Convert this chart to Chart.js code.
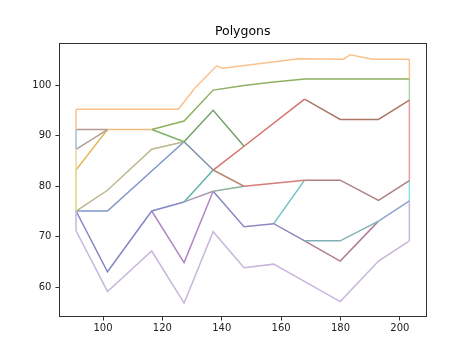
<!DOCTYPE html>
<html>
<head>
<meta charset="utf-8">
<script src="https://cdn.jsdelivr.net/npm/chart.js@4/dist/chart.umd.min.js"></script>
<style>
  html, body { margin: 0; padding: 0; background: #ffffff; }
  #wrap { width: 474px; height: 355px; }
</style>
</head>
<body>
<div id="wrap"><canvas id="c" width="474" height="355"></canvas></div>
<script>
// ---- title and tick labels ----
const titleText = 'Polygons';
const xTicks = [100, 120, 140, 160, 180, 200];
const yTicks = [60, 70, 80, 90, 100];

// ---- polyline vertices [x, y] ----
const orangeTop = [[90.9,95.2],[125.4,95.2],[130.8,99.3],[138.3,103.8],[140.3,103.3],[166,105.2],[181,105.1],[183.3,106.0],[190.6,105.1],[203.2,105.1]];
const orangeLeft = [[90.9,95.2],[90.9,91.2]];
const orangeRight = [[203.2,105.1],[203.2,101.2]];
const blueLeft = [[90.9,91.2],[90.9,87.3]];
const paleLeft = [[90.9,87.3],[90.9,83.2]];
const yellowLeft = [[90.9,83.2],[90.9,75.1]];
const lilacLeft = [[90.9,75.1],[90.9,71.2]];
const brownTop = [[90.9,91.2],[101.5,91.2]];
const orangeMid = [[101.5,91.2],[116.4,91.2]];
const brownDiag = [[90.9,87.3],[101.5,91.2]];
const yellowDiag = [[90.9,83.2],[101.5,91.2]];
const greenUpper = [[116.4,91.2],[127.3,92.9],[137.1,99.0],[147.5,99.9],[157.5,100.6],[168,101.2],[203.2,101.2]];
const greenZigA = [[116.4,91.2],[127.3,88.8]];
const greenZigB = [[127.3,88.8],[137.1,95.0],[147.5,87.9]];
const redRise = [[137.1,83.2],[147.5,87.9],[167.9,97.2]];
const brownHigh = [[167.9,97.2],[179.9,93.2],[192.8,93.2],[203.2,97.0]];
const greenRight = [[203.2,101.2],[203.2,97.0]];
const redRight = [[203.2,97.0],[203.2,81.1]];
const tanLine = [[90.9,75.1],[101.5,79.2],[116.4,87.3],[127.3,88.8]];
const blueLine = [[90.9,75.1],[101.5,75.1],[127.3,88.8]];
const blueGray = [[127.3,88.8],[137.1,83.2]];
const brownShort = [[137.1,83.2],[147.5,80.0]];
const redFlat = [[147.5,80.0],[167.9,81.2]];
const mauveLine = [[167.9,81.2],[179.9,81.2],[192.8,77.2],[203.2,81.1]];
const tealA = [[127.3,76.9],[137.1,83.2]];
const grayPurple = [[127.3,76.9],[137.1,79.0]];
const greenGray = [[137.1,79.0],[147.5,80.0]];
const indigoLow = [[90.9,75.1],[101.5,63.1],[116.4,75.1],[127.3,76.9]];
const magentaZig = [[116.4,75.1],[127.3,64.9],[137.1,79.0]];
const indigoMid = [[137.1,79.0],[147.5,72.0],[157.5,72.6],[167.9,69.2]];
const tealB = [[157.5,72.6],[167.9,81.2]];
const tealGray = [[167.9,69.2],[179.9,69.2],[192.8,73.1]];
const plumLine = [[167.9,69.2],[179.9,65.2],[192.8,73.1]];
const blueEnd = [[192.8,73.1],[203.2,77.1]];
const cyanRight = [[203.2,81.1],[203.2,77.1]];
const lilacRight = [[203.2,77.1],[203.2,69.2]];
const lilacBottom = [[90.9,71.2],[101.5,59.2],[116.4,67.2],[127.3,56.9],[137.1,71.0],[147.5,63.9],[157.5,64.6],[179.9,57.2],[192.8,65.2],[203.2,69.2]];

// ---- styling (kept apart from the data) ----
const series = [
  [orangeTop, '#fcc08c'], [orangeLeft, '#fcc08c'], [orangeRight, '#fcc08c'],
  [blueLeft, '#9cc0dc'], [paleLeft, '#eed59a'], [yellowLeft, '#e5d27f'], [lilacLeft, '#c8b6dd'],
  [brownTop, '#b59a90'], [orangeMid, '#f2ba82'], [brownDiag, '#b4a092'], [yellowDiag, '#e3b85a'],
  [greenUpper, '#8fb05f'], [greenZigA, '#7ab569'], [greenZigB, '#74a06a'],
  [redRise, '#d4736c'], [brownHigh, '#ad7866'], [greenRight, '#a9d6a0'], [redRight, '#eb9c9a'],
  [tanLine, '#bdb58e'], [blueLine, '#7f97c8'], [blueGray, '#7d90a8'],
  [brownShort, '#b98a70'], [redFlat, '#d57d7a'], [mauveLine, '#ad8080'],
  [tealA, '#5fb3a6'], [grayPurple, '#a59ab5'], [greenGray, '#90b098'],
  [indigoLow, '#8488c4'], [magentaZig, '#b485c3'], [indigoMid, '#8a86bf'],
  [tealB, '#6ec3c6'], [tealGray, '#7fb2b5'], [plumLine, '#b37b96'], [blueEnd, '#8ea6cc'],
  [cyanRight, '#8be0e8'], [lilacRight, '#c8b6dd'], [lilacBottom, '#c8b6dd']
];

const datasets = series.map(([pts, color]) => ({
  data: pts.map(p => ({ x: p[0], y: p[1] })),
  borderColor: color,
  borderWidth: 1.5,
  pointRadius: 0,
  pointHoverRadius: 0,
  showLine: true,
  fill: false,
  tension: 0
}));

const frameAndTitle = {
  id: 'frameAndTitle',
  afterDraw(chart) {
    const a = chart.chartArea, ctx = chart.ctx;
    ctx.save();
    ctx.strokeStyle = '#333333';
    ctx.lineWidth = 1;
    ctx.strokeRect(Math.round(a.left) + 0.5, Math.round(a.top) + 0.5,
                   Math.round(a.right - a.left), Math.round(a.bottom - a.top));
    ctx.fillStyle = '#000000';
    ctx.font = '12.5px "DejaVu Sans"';
    ctx.textAlign = 'center';
    ctx.textBaseline = 'middle';
    ctx.fillText(titleText, (a.left + a.right) / 2, 32);
    ctx.restore();
  }
};

const font = { family: 'DejaVu Sans', size: 10 };

new Chart(document.getElementById('c'), {
  type: 'scatter',
  data: { datasets },
  plugins: [frameAndTitle],
  options: {
    responsive: false,
    animation: false,
    events: [],
    layout: { padding: { left: 0, right: 48, top: 43.3, bottom: 0 } },
    plugins: {
      legend: { display: false },
      tooltip: { enabled: false },
      title: { display: false }
    },
    scales: {
      x: {
        type: 'linear',
        min: 85.3, max: 208.8,
        afterBuildTicks: s => { s.ticks = xTicks.map(v => ({ value: v })); },
        afterFit: s => { s.height = 38.5; },
        grid: { drawOnChartArea: false, drawTicks: true, tickLength: 4, color: '#333333' },
        border: { display: false },
        ticks: { color: '#222222', font, padding: 2, maxRotation: 0, autoSkip: false }
      },
      y: {
        type: 'linear',
        min: 54.25, max: 108.25,
        afterBuildTicks: s => { s.ticks = yTicks.map(v => ({ value: v })); },
        afterFit: s => { s.width = 59.4; },
        grid: { drawOnChartArea: false, drawTicks: true, tickLength: 4, color: '#333333' },
        border: { display: false },
        ticks: { color: '#222222', font, padding: 4, autoSkip: false }
      }
    }
  }
});
</script>
</body>
</html>
